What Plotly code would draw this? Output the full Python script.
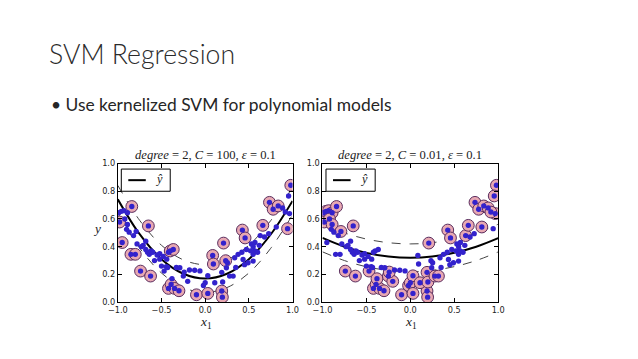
import plotly.graph_objects as go

# ---------------- data ----------------
x_pts = [-0.99, -0.96, -0.93, -0.89, -0.98, -0.92, -0.89, -0.90, -0.87, -0.84,
         -0.95, -0.85, -0.80, -0.82, -0.79, -0.78, -0.74, -0.625, -0.65, -0.73,
         -0.71, -0.68, -0.66, -0.64, -0.62, -0.60, -0.68, -0.58, -0.55, -0.52,
         -0.52, -0.48, -0.44, -0.42, -0.40, -0.365, -0.42, -0.39, -0.35, -0.30,
         -0.47, -0.38, -0.25, -0.20, -0.24, -0.50, -0.445, -0.43, -0.33, -0.29,
         -0.18, -0.12, -0.06, -0.02, 0.00, 0.03, -0.10, 0.03, 0.086, 0.094,
         0.19, 0.197, 0.21, 0.235, 0.11, 0.19, 0.20, 0.243, 0.28, 0.32,
         0.254, 0.338, 0.377, 0.42, 0.426, 0.457, 0.472, 0.53, 0.549, 0.568,
         0.549, 0.434, 0.491, 0.35, 0.45, 0.52, 0.55, 0.57, 0.60, 0.63,
         0.66, 0.736, 0.778, 0.836, 0.943, 0.98, 0.814, 0.886, 0.955, 0.966,
         0.917, 0.62, 0.68, 0.727]
y_pts = [0.645, 0.655, 0.660, 0.645, 0.578, 0.600, 0.560, 0.525, 0.505, 0.690,
         0.430, 0.345, 0.345, 0.480, 0.510, 0.420, 0.224, 0.188, 0.550, 0.400,
         0.410, 0.380, 0.360, 0.345, 0.370, 0.360, 0.440, 0.300, 0.340, 0.310,
         0.350, 0.330, 0.310, 0.360, 0.369, 0.380, 0.099, 0.128, 0.099, 0.082,
         0.224, 0.169, 0.188, 0.150, 0.217, 0.260, 0.255, 0.250, 0.250, 0.248,
         0.232, 0.230, 0.225, 0.120, 0.140, 0.190, 0.053, 0.063, 0.337, 0.275,
         0.080, 0.036, 0.426, 0.299, 0.140, 0.215, 0.145, 0.248, 0.188, 0.188,
         0.284, 0.320, 0.345, 0.360, 0.520, 0.463, 0.380, 0.420, 0.345, 0.369,
         0.296, 0.308, 0.284, 0.250, 0.270, 0.370, 0.400, 0.430, 0.360, 0.480,
         0.554, 0.720, 0.670, 0.694, 0.530, 0.843, 0.542, 0.680, 0.766, 0.639,
         0.650, 0.410, 0.470, 0.494]
# support vectors (circled) in left (C=100) and right (C=0.01) panels
sv_left = [0, 0, 0, 0, 1, 0, 0, 0, 0, 1,
           1, 1, 1, 0, 0, 0, 1, 1, 1, 0,
           0, 0, 0, 0, 0, 0, 0, 0, 0, 0,
           0, 0, 0, 0, 1, 1, 1, 1, 1, 1,
           0, 0, 0, 0, 0, 0, 0, 0, 0, 0,
           0, 0, 0, 0, 0, 0, 1, 1, 1, 1,
           1, 1, 1, 1, 0, 0, 0, 0, 0, 0,
           0, 0, 0, 0, 1, 1, 0, 0, 0, 0,
           0, 0, 0, 0, 0, 0, 0, 0, 0, 0,
           1, 1, 1, 1, 1, 1, 0, 0, 0, 0,
           0, 0, 0, 0]
sv_right = [1, 1, 1, 1, 1, 1, 1, 0, 0, 1,
            0, 0, 0, 0, 1, 0, 1, 1, 1, 0,
            0, 0, 0, 0, 0, 0, 0, 0, 0, 0,
            0, 0, 0, 0, 0, 0, 1, 1, 1, 1,
            1, 1, 1, 1, 1, 0, 0, 0, 0, 0,
            0, 0, 0, 1, 1, 1, 1, 1, 0, 0,
            1, 1, 1, 0, 1, 1, 1, 0, 1, 1,
            0, 0, 0, 0, 1, 1, 0, 0, 0, 0,
            0, 0, 0, 0, 0, 0, 0, 0, 0, 1,
            1, 1, 1, 1, 0, 1, 1, 1, 1, 1,
            1, 0, 0, 0]

curve_x = [-1.0, -0.75, -0.5, -0.25, 0.0, 0.25, 0.5, 0.75, 1.0]
pred_left = [0.742, 0.49, 0.31, 0.205, 0.17, 0.205, 0.31, 0.488, 0.73]
pred_right = [0.463, 0.40, 0.355, 0.329, 0.32, 0.329, 0.356, 0.40, 0.462]
epsilon = 0.1

titles = ["<i>degree</i> = 2, <i>C</i> = 100, <i>ε</i> = 0.1",
          "<i>degree</i> = 2, <i>C</i> = 0.01, <i>ε</i> = 0.1"]
x_ticks = [-1.0, -0.5, 0.0, 0.5, 1.0]
y_ticks = [0.0, 0.2, 0.4, 0.6, 0.8, 1.0]

# ---------------- figure ----------------
W, H = 638, 359
# the photographed page shows the figure slightly shrunk and offset; compensate
S, OX, OY = 0.975, 10.0, 5.0

def px(v):
    return ((v - OX) / S) / W

def py(v):
    return 1 - ((v - OY) / S) / H

def fs(v):
    return v / S

fig = go.Figure()
DOT = "#3322cc"
panels = [("x", "y", pred_left, sv_left), ("x2", "y2", pred_right, sv_right)]
for xa, ya, pred, sv in panels:
    for sgn in (1, -1):
        fig.add_trace(go.Scatter(x=curve_x, y=[p + sgn * epsilon for p in pred], mode="lines",
                                 line=dict(color="#444", width=1, dash="dash", shape="spline"),
                                 xaxis=xa, yaxis=ya, showlegend=False, hoverinfo="skip"))
    fig.add_trace(go.Scatter(x=curve_x, y=pred, mode="lines", name="ŷ",
                             line=dict(color="black", width=2, shape="spline"),
                             xaxis=xa, yaxis=ya, showlegend=False))
    sx = [x for x, s in zip(x_pts, sv) if s]
    sy = [y for y, s in zip(y_pts, sv) if s]
    fig.add_trace(go.Scatter(x=sx, y=sy, mode="markers",
                             marker=dict(size=fs(11.5), color="#E8A8B2",
                                         line=dict(color="#5a2d5e", width=1)),
                             xaxis=xa, yaxis=ya, showlegend=False))
    fig.add_trace(go.Scatter(x=x_pts, y=y_pts, mode="markers",
                             marker=dict(size=fs(5.2), color=DOT),
                             xaxis=xa, yaxis=ya, showlegend=False))

ax_common = dict(showline=True, linecolor="black", linewidth=1, mirror="ticks",
                 ticks="inside", ticklen=4, tickcolor="black", showgrid=False,
                 zeroline=False, tickfont=dict(family="DejaVu Sans", size=fs(8), color="#222"),
                 tickformat=".1f")
fig.update_layout(
    width=W, height=H, margin=dict(l=0, r=0, t=0, b=0),
    paper_bgcolor="white", plot_bgcolor="white", hovermode=False,
    xaxis=dict(domain=[px(118), px(293)], range=[-1, 1], tickvals=x_ticks, anchor="y", **ax_common),
    yaxis=dict(domain=[py(303), py(164)], range=[0, 1], tickvals=y_ticks, anchor="x", **ax_common),
    xaxis2=dict(domain=[px(323), px(499)], range=[-1, 1], tickvals=x_ticks, anchor="y2", **ax_common),
    yaxis2=dict(domain=[py(303), py(164)], range=[0, 1], tickvals=y_ticks, anchor="x2", **ax_common),
)

serif = "Liberation Serif"
ann = [
    dict(text="SVM Regression", x=px(47), y=py(54), xanchor="left",
         font=dict(family="Lato", size=26.6, color="#2b2b2b", weight=300)),
    dict(text="• Use kernelized SVM for polynomial models", x=px(49), y=py(105),
         xanchor="left", font=dict(family="Lato", size=17.4, color="#262626")),
    dict(text="<i>y</i>", x=px(97), y=py(229), font=dict(family=serif, size=fs(13), color="#222")),
    dict(text="<i>x</i><sub>1</sub>", x=px(206), y=py(323), font=dict(family=serif, size=fs(13), color="#222")),
    dict(text="<i>x</i><sub>1</sub>", x=px(412), y=py(323), font=dict(family=serif, size=fs(13), color="#222")),
    dict(text=titles[0], x=px(205.5), y=py(155), font=dict(family=serif, size=12.6, color="#222")),
    dict(text=titles[1], x=px(411), y=py(155), font=dict(family=serif, size=12.6, color="#222")),
]
for a in ann:
    a.setdefault("xanchor", "center")
    a.setdefault("yanchor", "middle")
    a.update(xref="paper", yref="paper", showarrow=False)
shapes = []
for xr, yr in [("x domain", "y domain"), ("x2 domain", "y2 domain")]:
    shapes.append(dict(type="rect", xref=xr, yref=yr, x0=0.02, x1=0.30, y0=0.80, y1=0.96,
                       line=dict(color="black", width=1), fillcolor="white"))
    shapes.append(dict(type="line", xref=xr, yref=yr, x0=0.06, x1=0.16, y0=0.88, y1=0.88,
                       line=dict(color="black", width=2)))
    ann.append(dict(text="<i>ŷ</i>", xref=xr, yref=yr, x=0.235, y=0.885, showarrow=False,
                    xanchor="center", yanchor="middle",
                    font=dict(family=serif, size=fs(12), color="#222")))
fig.update_layout(annotations=ann, shapes=shapes)

fig.write_html("out.html", config={"displayModeBar": False},
               post_script="document.body.style.margin='0';document.body.style.padding='0';")
